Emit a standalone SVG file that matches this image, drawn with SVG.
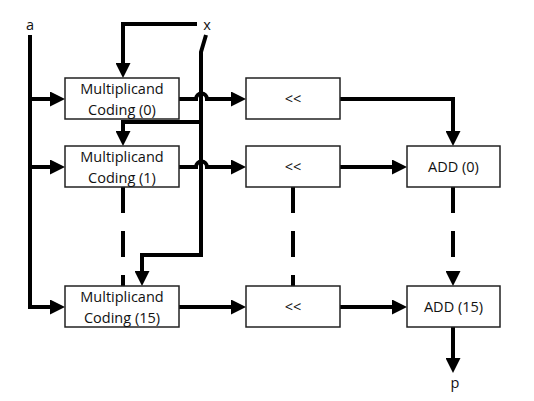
<svg xmlns="http://www.w3.org/2000/svg" width="534" height="401" viewBox="0 0 534 401">
<style>
.box{fill:#fff;stroke:#222;stroke-width:1.5}
.t{font-family:"Open Sans","Liberation Sans",sans-serif;font-size:14.5px;fill:#111;text-anchor:middle}
.w{fill:none;stroke:#000;stroke-width:4}
.d{stroke-dasharray:26 18}
</style>
<defs>
<marker id="ah" markerUnits="userSpaceOnUse" markerWidth="15" markerHeight="15" refX="0" refY="7.5" orient="auto">
<path d="M0,0 L15,7.5 L0,15 z" fill="#000"/>
</marker>
</defs>
<g id="connectors">
<path class="w" d="M30,35 V307 H50" marker-end="url(#ah)"/>
<path class="w" d="M30,99 H50" marker-end="url(#ah)"/>
<path class="w" d="M30,167 H50" marker-end="url(#ah)"/>
<path class="w" d="M197,24 H123 V63" marker-end="url(#ah)"/>
<path class="w" d="M206,35 L201,52 V255 H142 V271" marker-end="url(#ah)"/>
<path class="w" d="M201,122 H123 V131" marker-end="url(#ah)"/>
<path class="w" d="M179,99 H196 A5.5,5.5 0 0 1 207,99 H231" marker-end="url(#ah)"/>
<path class="w" d="M179,167 H196 A5.5,5.5 0 0 1 207,167 H231" marker-end="url(#ah)"/>
<path class="w" d="M179,307 H231" marker-end="url(#ah)"/>
<path class="w" d="M340,99 H453 V131" marker-end="url(#ah)"/>
<path class="w" d="M340,167 H392" marker-end="url(#ah)"/>
<path class="w" d="M340,307 H392" marker-end="url(#ah)"/>
<path class="w" d="M453,327 V358" marker-end="url(#ah)"/>
<path class="w d" d="M123,187 V286"/>
<path class="w d" d="M293,187 V286"/>
<path class="w d" d="M453,187 V271" marker-end="url(#ah)"/>
</g>
<g id="mc0"><rect class="box" x="65" y="78" width="114" height="41"/><text class="t" x="122" y="94">Multiplicand</text><text class="t" x="122" y="115">Coding (0)</text></g>
<g id="mc1"><rect class="box" x="65" y="146" width="114" height="41"/><text class="t" x="122" y="162">Multiplicand</text><text class="t" x="122" y="183">Coding (1)</text></g>
<g id="mc15"><rect class="box" x="65" y="286" width="114" height="41"/><text class="t" x="122" y="302">Multiplicand</text><text class="t" x="122" y="323">Coding (15)</text></g>
<g id="sh0"><rect class="box" x="246" y="78" width="94" height="41"/><text class="t" x="293" y="104">&lt;&lt;</text></g>
<g id="sh1"><rect class="box" x="246" y="146" width="94" height="41"/><text class="t" x="293" y="172">&lt;&lt;</text></g>
<g id="sh15"><rect class="box" x="246" y="286" width="94" height="41"/><text class="t" x="293" y="312">&lt;&lt;</text></g>
<g id="add0"><rect class="box" x="407" y="146" width="93" height="41"/><text class="t" x="453.5" y="172">ADD (0)</text></g>
<g id="add15"><rect class="box" x="407" y="286" width="93" height="41"/><text class="t" x="453.5" y="312">ADD (15)</text></g>
<g id="labels">
<text class="t" x="30" y="30">a</text>
<text class="t" x="207" y="30">x</text>
<text class="t" x="455" y="388">p</text>
</g>
</svg>
